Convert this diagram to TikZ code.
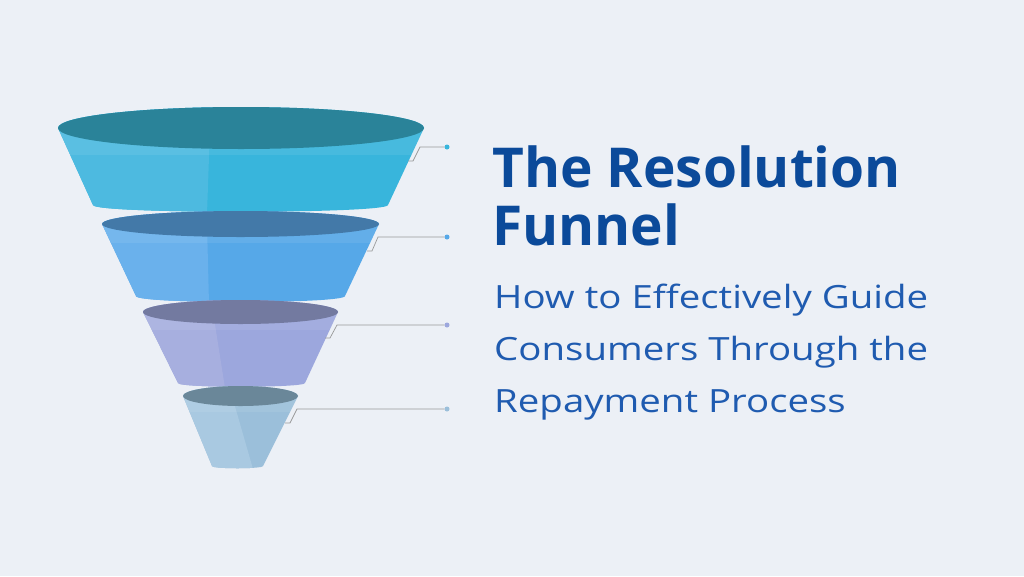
\documentclass[tikz,border=0pt]{standalone}
\usepackage{fontspec}
\setmainfont{Open Sans}
\begin{document}
\begin{tikzpicture}[x=1pt,y=-1pt,
  conn/.style={draw=gray!80,line width=0.7pt},
  dot/.style={circle,inner sep=0pt,minimum size=5pt},
  ttl/.style={anchor=base west,inner sep=0pt,text=titleblue,font=\fontsize{55}{58}\selectfont\bfseries},
  sub/.style={anchor=base west,inner sep=0pt,text=subblue,font=\fontsize{32}{40}\selectfont}]
\definecolor{bg}{HTML}{ECF0F6}
\definecolor{Ta}{HTML}{2A8399}\definecolor{La}{HTML}{4DBAE0}\definecolor{Ra}{HTML}{38B5DC}
\definecolor{Tb}{HTML}{4379A8}\definecolor{Lb}{HTML}{6AB1EC}\definecolor{Rb}{HTML}{56A8E8}
\definecolor{Tc}{HTML}{737AA0}\definecolor{Lc}{HTML}{A7AFDF}\definecolor{Rc}{HTML}{9CA7DD}
\definecolor{Td}{HTML}{6A8799}\definecolor{Ld}{HTML}{A9C9E1}\definecolor{Rd}{HTML}{9BBFDA}
\definecolor{titleblue}{HTML}{0B4A9A}\definecolor{subblue}{HTML}{1F5BB0}
\fill[bg] (0,0) rectangle (1024,576);
\useasboundingbox (0,0) rectangle (1024,576);
\newcommand\fseg[9]{%
 \begin{scope}
 \path[clip] (#1,#3) -- (#5,#7) .. controls (#5,#7+#8) and (#6,#7+#8) .. (#6,#7) -- (#2,#3) arc[start angle=0,end angle=-180,x radius={(#2-#1)/2},y radius=#4] -- cycle;
 \fill[R#9] (0,0) rectangle (1024,576);
 \fill[L#9] (0,0) -- (\sT,0) -- (\sT,#3) -- (\sB,#7+#8) -- (\sB,576) -- (0,576) -- cycle;
 \fill[white,opacity=0.08] (0,#3) rectangle (1024,#3+#4+6);
 \end{scope}
 \fill[T#9] ({(#1+#2)/2},#3) ellipse[x radius={(#2-#1)/2},y radius=#4];
}
\def\sT{210}\def\sB{207}\fseg{58}{424}{128}{21}{93}{388}{205}{9}{a}
\def\sT{207}\def\sB{209}\fseg{102}{379}{224}{13}{136}{345}{296}{8}{b}
\def\sT{213}\def\sB{225}\fseg{143}{338}{312}{12}{178}{305}{383}{5}{c}
\def\sT{232}\def\sB{253}\fseg{183}{298}{396}{10}{212}{263}{466}{3}{d}
\coordinate (s1) at (408,161); \coordinate (s2) at (367,251); \coordinate (s3) at (325,338); \coordinate (s4) at (285,423);
\node[dot,fill=Ra] (d1) at (447,147) {};
\node[dot,fill=Rb] (d2) at (447,237) {};
\node[dot,fill=Rc] (d3) at (447,325) {};
\node[dot,fill=Rd] (d4) at (447,409) {};
\draw[conn] (s1) -- ++(5,0) -- ++(7,-14) -- (d1.west);
\draw[conn] (s2) -- ++(5,0) -- ++(6,-14) -- (d2.west);
\draw[conn] (s3) -- ++(5,0) -- ++(7,-13) -- (d3.west);
\draw[conn] (s4) -- ++(5,0) -- ++(7,-14) -- (d4.west);
\node[ttl] (t1) at (492,187) {The Resolution};
\node[ttl] (t2) at (492,245) {Funnel};
\node[sub] (u1) at (494,308) {\scalebox{1.2}[1]{How to Effectively Guide}};
\node[sub] (u2) at (494,360) {\scalebox{1.2}[1]{Consumers Through the}};
\node[sub] (u3) at (494,412) {\scalebox{1.2}[1]{Repayment Process}};
\end{tikzpicture}
\end{document}
